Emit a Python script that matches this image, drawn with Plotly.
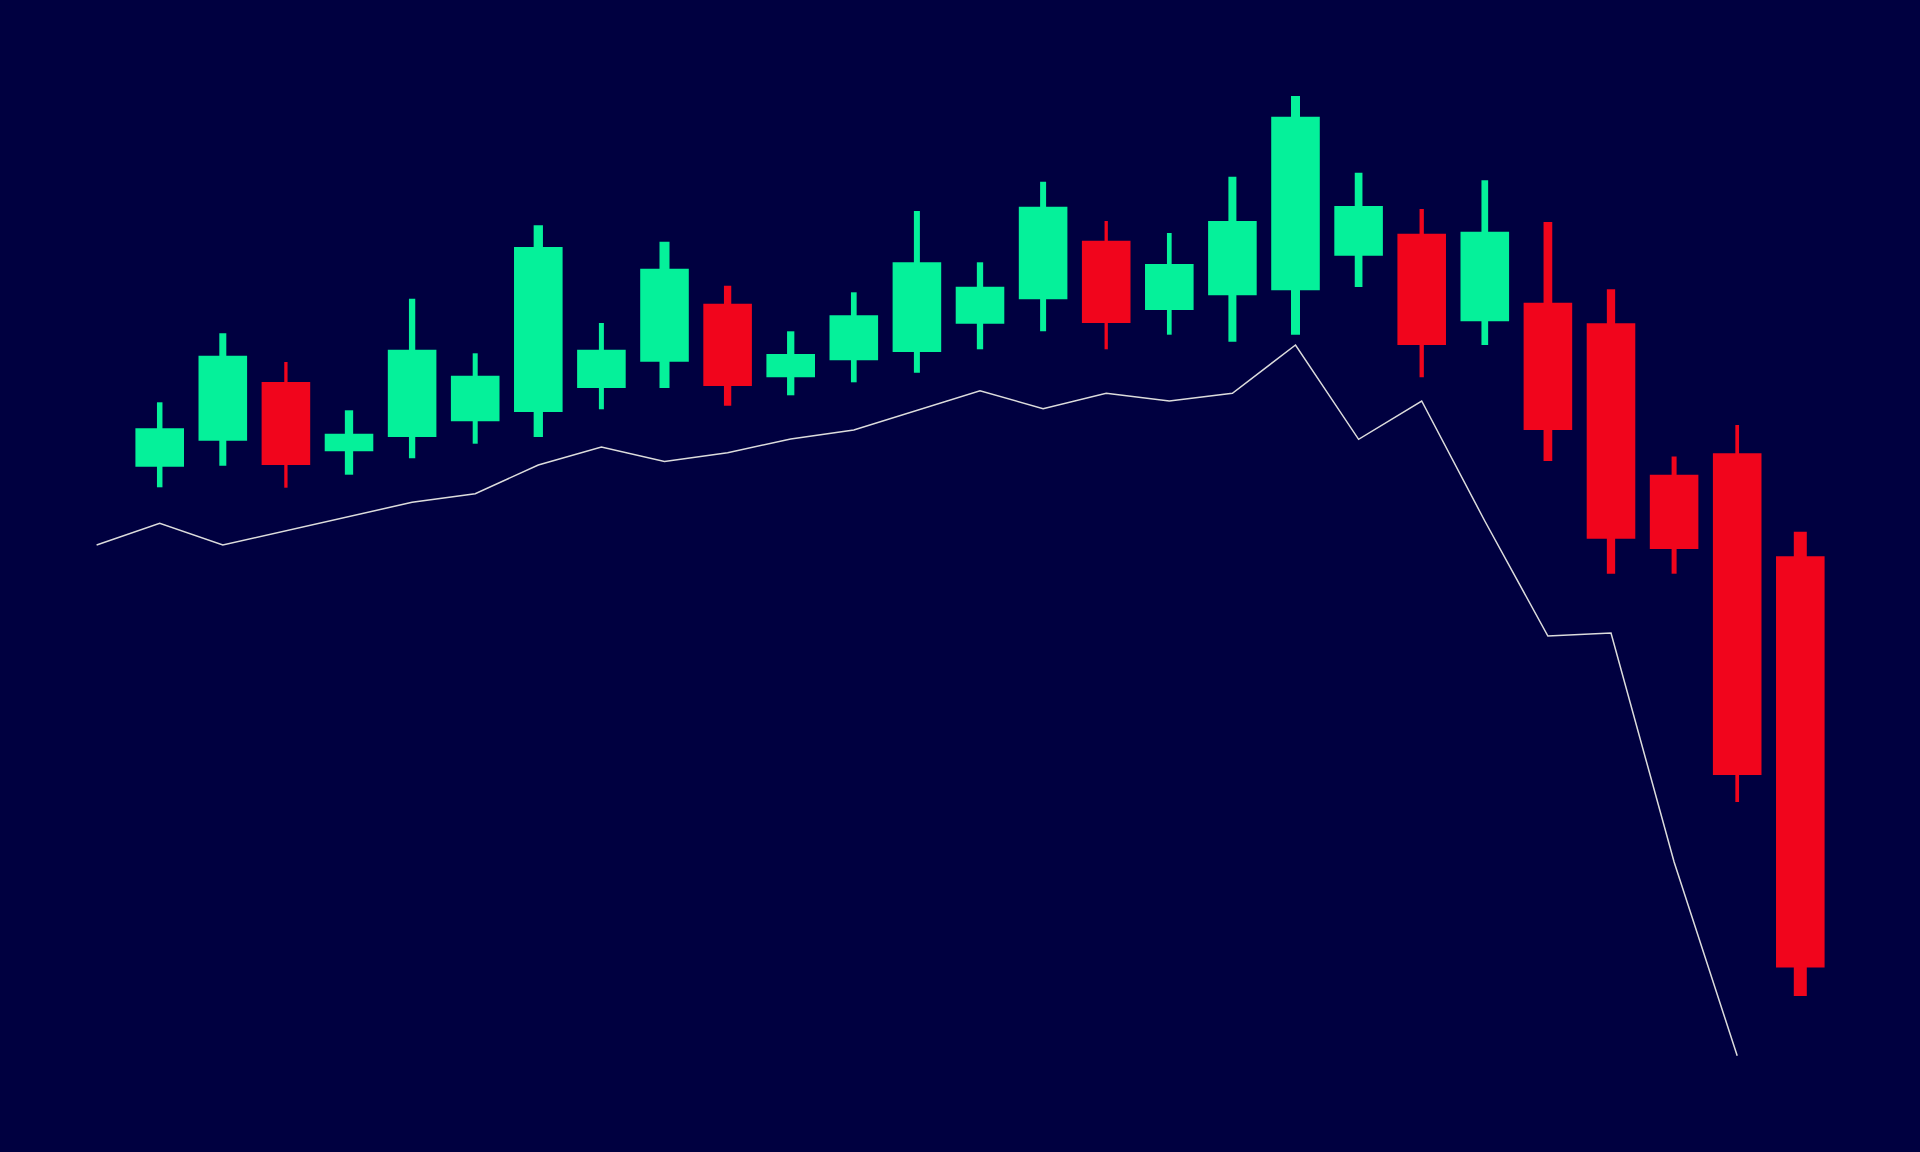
import plotly.graph_objects as go

# candles sit on x = 1..27
days = list(range(1, 28))

opens = [68.53, 71.13, 77.0, 70.07, 71.5, 73.07, 74.0, 76.4, 79.03, 84.83,
         77.47, 79.17, 80.0, 82.83, 85.27, 91.13, 84.2, 85.67, 86.17, 89.63,
         91.83, 83.07, 84.93, 82.87, 67.72, 69.88, 59.57]
highs = [74.97, 81.87, 79.0, 74.17, 85.33, 79.87, 92.67, 82.9, 91.03, 86.63,
         82.07, 85.97, 94.1, 88.97, 97.03, 93.1, 91.9, 97.53, 105.6, 97.93,
         94.3, 97.17, 93.0, 86.27, 69.55, 72.7, 62.03]
lows = [66.47, 68.63, 66.43, 67.73, 69.37, 70.83, 71.5, 74.27, 76.4, 74.63,
        75.67, 76.97, 77.93, 80.27, 82.07, 80.27, 81.73, 81.03, 81.73, 86.5,
        77.47, 80.7, 69.1, 57.83, 57.83, 35.0, 15.6]
closes = [72.37, 79.63, 68.7, 71.83, 80.23, 77.63, 90.5, 80.23, 88.33, 76.6,
          79.8, 83.67, 88.97, 86.53, 94.53, 82.9, 88.8, 93.1, 103.53, 94.6,
          80.7, 92.03, 72.2, 61.32, 60.29, 37.7, 18.45]

# white line runs one step behind the candles
line_x = list(range(0, 27))
line_y = [60.7, 62.87, 60.7, 62.12, 63.54, 64.97, 65.83, 68.7, 70.5, 69.05,
          69.92, 71.3, 72.2, 74.2, 76.13, 74.33, 75.87, 75.1, 75.87, 80.7,
          71.27, 75.1, 63.1, 51.6, 51.9, 29.0, 9.62]

# wick thickness in pixels, one per candle
wick_px = [5.5, 7, 3.3, 8.3, 6.3, 5, 9.3, 5, 10, 7.3, 7.3, 5.7, 6, 6.3, 6,
           3.3, 4.7, 8, 9, 7.7, 4.3, 6.7, 8.7, 8.3, 5, 3.7, 13]

GREEN = "#05F19A"
RED = "#F1051C"
BG = "#000040"
step_px = 63.1

colors = [GREEN if c >= o else RED for o, c in zip(opens, closes)]

fig = go.Figure()

# wicks
fig.add_trace(go.Bar(
    x=days,
    base=lows,
    y=[h - l for h, l in zip(highs, lows)],
    width=[w / step_px for w in wick_px],
    marker=dict(color=colors, line=dict(width=0), opacity=1),
    hoverinfo="skip",
))

# bodies
fig.add_trace(go.Bar(
    x=days,
    base=[min(o, c) for o, c in zip(opens, closes)],
    y=[abs(c - o) for o, c in zip(opens, closes)],
    width=0.77,
    marker=dict(color=colors, line=dict(width=0), opacity=1),
))

fig.add_trace(go.Scatter(
    x=line_x, y=line_y, mode="lines",
    line=dict(color="#dcdcdc", width=1.5),
))

fig.update_layout(
    width=1920, height=1152,
    margin=dict(l=0, r=0, t=0, b=0),
    paper_bgcolor=BG, plot_bgcolor=BG,
    showlegend=False,
    barmode="overlay",
)
fig.update_xaxes(visible=False, range=[-1.531, 28.897])
fig.update_yaxes(visible=False, range=[0, 115.2])

# drop the browser's default page margin so the figure fills the window
fig.write_html(
    "out.html",
    config={"displayModeBar": False},
    post_script="document.body.style.margin='0';document.body.style.background='" + BG + "';",
)
